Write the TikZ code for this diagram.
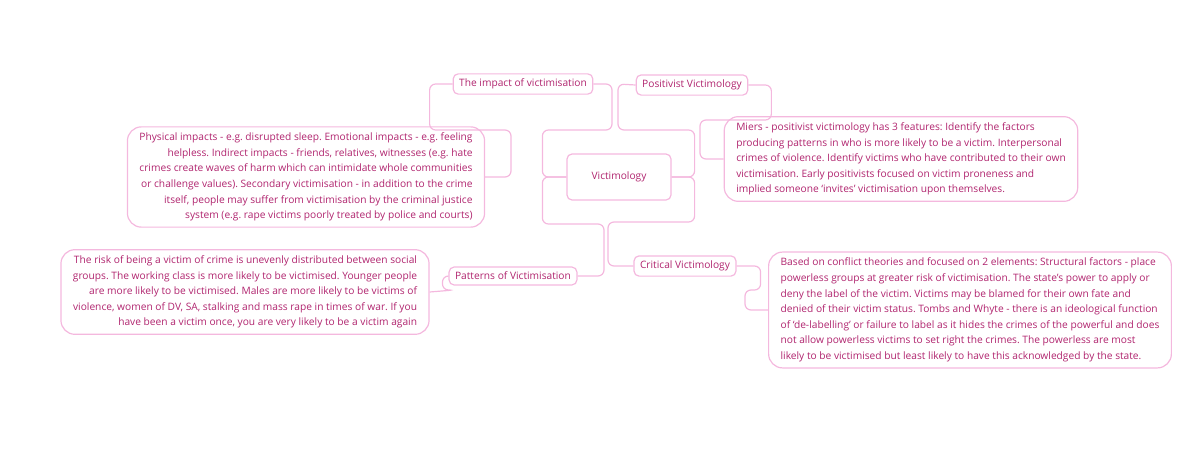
\documentclass[tikz,border=0pt]{standalone}
\usepackage{fontspec}
\setmainfont{Open Sans}
\frenchspacing
\definecolor{boxPink}{HTML}{F4B8DE}
\definecolor{textPink}{HTML}{B0246E}
\tikzset{
  topic/.style={shape=rectangle,draw=boxPink,line width=1.2pt,rounded corners=5pt,
    text=textPink,font=\fontsize{10.2}{15.6}\selectfont,inner xsep=6pt,inner ysep=5pt},
  note/.style={topic,rounded corners=14pt,inner xsep=12pt,inner ysep=6pt},
  link/.style={draw=boxPink,line width=1.2pt,rounded corners=6pt}
}
\begin{document}
\begin{tikzpicture}[x=1pt,y=-1pt]
  \useasboundingbox (0,0) rectangle (1200,450);

  \node[topic,minimum width=104pt,minimum height=46pt] (V) at (619,177) {Victimology};

  \node[topic] (I) at (523,84) {The impact of victimisation};
  \node[topic] (P) at (692,85) {Positivist Victimology};
  \node[topic] (PV) at (513,276) {Patterns of Victimisation};
  \node[topic] (C) at (685,266) {Critical Victimology};

  \node[note,align=right] (IN) at (306,177) {Physical impacts - e.g. disrupted sleep. Emotional impacts - e.g. feeling\\helpless. Indirect impacts - friends, relatives, witnesses (e.g. hate\\crimes create waves of harm which can intimidate whole communities\\or challenge values). Secondary victimisation - in addition to the crime\\itself, people may suffer from victimisation by the criminal justice\\system (e.g. rape victims poorly treated by police and courts)};
  \node[note,align=left] (PN) at (901,159) {Miers - positivist victimology has 3 features: Identify the factors\\producing patterns in who is more likely to be a victim. Interpersonal\\crimes of violence. Identify victims who have contributed to their own\\victimisation. Early positivists focused on victim proneness and\\implied someone ‘invites’ victimisation upon themselves.};
  \node[note,align=right] (PVN) at (245,292) {The risk of being a victim of crime is unevenly distributed between social\\groups. The working class is more likely to be victimised. Younger people\\are more likely to be victimised. Males are more likely to be victims of\\violence, women of DV, SA, stalking and mass rape in times of war. If you\\have been a victim once, you are very likely to be a victim again};
  \node[note,align=left] (CN) at (970,310) {Based on conflict theories and focused on 2 elements: Structural factors - place\\powerless groups at greater risk of victimisation. The state’s power to apply or\\deny the label of the victim. Victims may be blamed for their own fate and\\denied of their victim status. Tombs and Whyte - there is an ideological function\\of ‘de-labelling’ or failure to label as it hides the crimes of the powerful and does\\not allow powerless victims to set right the crimes. The powerless are most\\likely to be victimised but least likely to have this acknowledged by the state.};

  % branches from the centre
  \draw[link] (V.west) -- ++(-24,0) |- (612,130) -- (612,84) -- (I.east);
  \draw[link] (V.east) -- ++(23,0) |- (618,130) -- (618,84) -- (P.west);
  \draw[link] (V.west) -- ++(-24,0) |- (604,224) |- (PV.east);
  \draw[link] (V.east) -- ++(23,0) |- (608,222) |- (C.west);

  % notes
  \draw[link] (I.west) -- ++(-23,0) |- (511,130) |- (IN.east);
  \draw[link] (P.east) -- ++(23,0) |- (700,120) |- (PN.west);
  \draw[link] (PV.west) -- ++(-6,0) |- (454,290) -- (PVN.east);
  \draw[link] (C.east) -- ++(24,0) |- (745,290) |- (CN.west);
\end{tikzpicture}
\end{document}
